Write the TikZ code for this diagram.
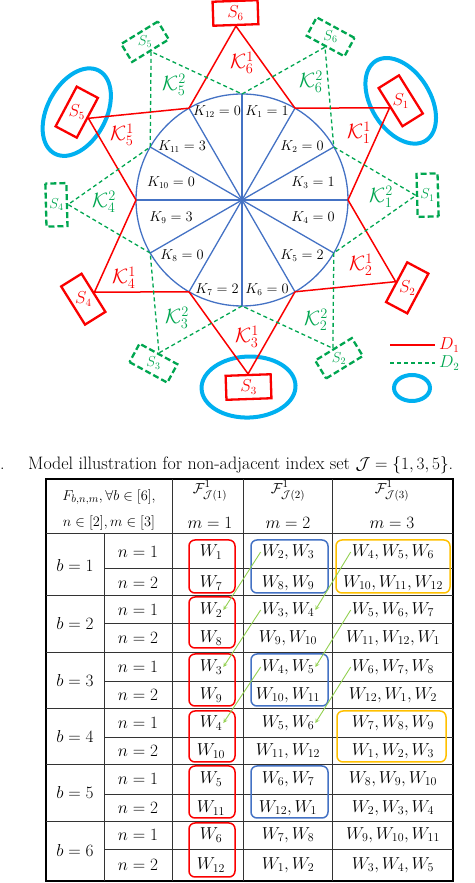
\documentclass[tikz,border=0pt]{standalone}
\usepackage{amsmath}
\usepackage{amssymb}
\usepackage{tikz}
\usepackage{xcolor}
\usetikzlibrary{shapes.geometric, arrows}
\definecolor{pptred}{RGB}{250,0,0}
\definecolor{pptgreen}{RGB}{0,166,80}
\definecolor{pptblue}{RGB}{68,114,196}
\definecolor{pptcyan}{RGB}{0,176,240}
\definecolor{pptgold}{RGB}{255,192,0}
\definecolor{pptlime}{RGB}{146,208,80}
\tikzstyle{dOne}=[pptred, line width=1.5pt]
\tikzstyle{dTwo}=[pptgreen, line width=1.3pt, dash pattern=on 4pt off 3pt]
\tikzstyle{spoke}=[pptblue, line width=1.3pt]
\tikzstyle{redbox}=[draw=pptred, line width=2.3pt, rectangle, minimum width=45pt, minimum height=24pt, inner sep=0pt]
\tikzstyle{greenbox}=[draw=pptgreen, line width=2.3pt, dash pattern=on 6pt off 3pt, rectangle, minimum width=43pt, minimum height=21pt, inner sep=0pt]
\tikzstyle{sring}=[draw=pptcyan, line width=4pt, ellipse, minimum width=94pt, minimum height=59pt, inner sep=0pt]
\tikzstyle{rlabel}=[pptred, inner sep=1pt, font=\fontsize{16}{18}\selectfont]
\tikzstyle{glabel}=[pptgreen, inner sep=1pt, font=\fontsize{14}{16}\selectfont]
\tikzstyle{dlabel}=[inner sep=1pt, font=\fontsize{16}{18}\selectfont]
\tikzstyle{klabel}=[inner sep=1pt, font=\fontsize{13.5}{15}\selectfont]
\tikzstyle{kcal}=[inner sep=1pt, font=\fontsize{20}{22}\selectfont]
\tikzstyle{cell}=[inner sep=1pt, font=\fontsize{16.5}{18}\selectfont]
\tikzstyle{hdr}=[inner sep=0.5pt, font=\fontsize{15}{17}\selectfont]
\tikzstyle{grp}=[rounded corners=6pt, line width=1.5pt]
\tikzstyle{grid}=[black!80, line width=0.9pt]
\tikzstyle{wflow}=[->, >=stealth, pptlime, line width=0.9pt]

\begin{document}
\begin{tikzpicture}[x=1pt,y=1pt]
    \useasboundingbox (0,0) rectangle (474,883);

    % ring of 12 sectors
    \begin{scope}[shift={(242,683)}]
    \coordinate (o) at (0,0);
    \coordinate (p0) at (0:106);
    \coordinate (p1) at (30:106);
    \coordinate (p2) at (60:106);
    \coordinate (p3) at (90:106);
    \coordinate (p4) at (120:106);
    \coordinate (p5) at (150:106);
    \coordinate (p6) at (180:106);
    \coordinate (p7) at (210:106);
    \coordinate (p8) at (240:106);
    \coordinate (p9) at (270:106);
    \coordinate (p10) at (300:106);
    \coordinate (p11) at (330:106);

    \draw[spoke] (o) circle (106);
    \draw[spoke] (o) -- (p0);
    \draw[spoke] (o) -- (p1);
    \draw[spoke] (o) -- (p2);
    \draw[spoke] (o) -- (p3);
    \draw[spoke] (o) -- (p4);
    \draw[spoke] (o) -- (p5);
    \draw[spoke] (o) -- (p6);
    \draw[spoke] (o) -- (p7);
    \draw[spoke] (o) -- (p8);
    \draw[spoke] (o) -- (p9);
    \draw[spoke] (o) -- (p10);
    \draw[spoke] (o) -- (p11);

    \node[klabel] (k1) at (25,88) {$K_1=1$};
    \node[klabel] (k2) at (60,53) {$K_2=0$};
    \node[klabel] (k3) at (71,17) {$K_3=1$};
    \node[klabel] (k4) at (71,-18) {$K_4=0$};
    \node[klabel] (k5) at (60,-56) {$K_5=2$};
    \node[klabel] (k6) at (25,-90) {$K_6=0$};
    \node[klabel] (k7) at (-25,-90) {$K_7=2$};
    \node[klabel] (k8) at (-60,-56) {$K_8=0$};
    \node[klabel] (k9) at (-71,-18) {$K_9=3$};
    \node[klabel] (k10) at (-71,17) {$K_{10}=0$};
    \node[klabel] (k11) at (-60,53) {$K_{11}=3$};
    \node[klabel] (k12) at (-25,88) {$K_{12}=0$};

    % D1 stations
    \node[redbox, rotate=-58, anchor=south] (R1) at (32:174) {};
    \node[redbox, rotate=-118, anchor=south] (R2) at (-28:174) {};
    \node[redbox, rotate=-178, anchor=south] (R3) at (-88:174) {};
    \node[redbox, rotate=122, anchor=south] (R4) at (212:174) {};
    \node[redbox, rotate=62, anchor=south] (R5) at (152:174) {};
    \node[redbox, rotate=2, anchor=south] (R6) at (92:174) {};
    \node[rlabel] (tR1) at (R1.center) {$S_1$};
    \node[rlabel] (tR2) at (R2.center) {$S_2$};
    \node[rlabel] (tR3) at (R3.center) {$S_3$};
    \node[rlabel] (tR4) at (R4.center) {$S_4$};
    \node[rlabel] (tR5) at (R5.center) {$S_5$};
    \node[rlabel] (tR6) at (R6.center) {$S_6$};

    % D2 stations
    \node[greenbox, rotate=-88.5, anchor=south] (G1) at (1.5:174) {};
    \node[greenbox, rotate=-148.5, anchor=south] (G2) at (-58.5:174) {};
    \node[greenbox, rotate=151.5, anchor=south] (G3) at (-118.5:174) {};
    \node[greenbox, rotate=91.5, anchor=south] (G4) at (181.5:174) {};
    \node[greenbox, rotate=31.5, anchor=south] (G5) at (121.5:174) {};
    \node[greenbox, rotate=-28.5, anchor=south] (G6) at (61.5:174) {};
    \node[glabel] (tG1) at (G1.center) {$S_1$};
    \node[glabel] (tG2) at (G2.center) {$S_2$};
    \node[glabel] (tG3) at (G3.center) {$S_3$};
    \node[glabel] (tG4) at (G4.center) {$S_4$};
    \node[glabel] (tG5) at (G5.center) {$S_5$};
    \node[glabel] (tG6) at (G6.center) {$S_6$};

    % selected stations
    \node[sring, rotate=-58] (E1) at (R1.center) {};
    \node[sring, rotate=-178, minimum height=61pt] (E3) at (R3.center) {};
    \node[sring, rotate=62] (E5) at (R5.center) {};

    \draw[dOne] (p0) -- (R1.south) -- (p2);
    \draw[dOne] (p0) -- (R2.south) -- (p10);
    \draw[dOne] (p10) -- (R3.south) -- (p8);
    \draw[dOne] (p8) -- (R4.south) -- (p6);
    \draw[dOne] (p6) -- (R5.south) -- (p4);
    \draw[dOne] (p4) -- (R6.south) -- (p2);

    \draw[dTwo] (p1) -- (G1.south) -- (p11);
    \draw[dTwo] (p11) -- (G2.south) -- (p9);
    \draw[dTwo] (p9) -- (G3.south) -- (p7);
    \draw[dTwo] (p7) -- (G4.south) -- (p5);
    \draw[dTwo] (p5) -- (G5.south) -- (p3);
    \draw[dTwo] (p3) -- (G6.south) -- (p1);

    \node[kcal, pptred] (K11) at (117,67) {$\mathcal{K}^1_1$};
    \node[kcal, pptred] (K12) at (119,-65) {$\mathcal{K}^1_2$};
    \node[kcal, pptred] (K13) at (5,-137) {$\mathcal{K}^1_3$};
    \node[kcal, pptred] (K14) at (-118,-78) {$\mathcal{K}^1_4$};
    \node[kcal, pptred] (K15) at (-120,65) {$\mathcal{K}^1_5$};
    \node[kcal, pptred] (K16) at (0,137) {$\mathcal{K}^1_6$};
    \node[kcal, pptgreen] (K21) at (139,3) {$\mathcal{K}^2_1$};
    \node[kcal, pptgreen] (K22) at (74,-120) {$\mathcal{K}^2_2$};
    \node[kcal, pptgreen] (K23) at (-65,-118) {$\mathcal{K}^2_3$};
    \node[kcal, pptgreen] (K24) at (-138,-2) {$\mathcal{K}^2_4$};
    \node[kcal, pptgreen] (K25) at (-68,115) {$\mathcal{K}^2_5$};
    \node[kcal, pptgreen] (K26) at (69,118) {$\mathcal{K}^2_6$};
    \end{scope}

    % legend
    \coordinate (l1a) at (390,538);
    \coordinate (l1b) at (435,538);
    \coordinate (l2a) at (390,520);
    \coordinate (l2b) at (435,520);
    \draw[dOne] (l1a) -- (l1b);
    \draw[dTwo] (l2a) -- (l2b);
    \node[dlabel, pptred, anchor=west] (d1) at ([xshift=3pt]l1b) {$D_1$};
    \node[dlabel, pptgreen, anchor=west] (d2) at ([xshift=3pt]l2b) {$D_2$};
    \node[draw=pptcyan, line width=4pt, ellipse, minimum width=36pt, minimum height=26pt] (lring) at (412,495) {};

    % caption
    \node[anchor=base west, inner sep=0pt, font=\fontsize{18}{20}\selectfont] (dot) at (0,413) {.};
    \node[anchor=base west, inner sep=0pt, font=\fontsize{18}{20}\selectfont] (cap) at (28,413) {Model illustration for non-adjacent index set $\mathcal{J}=\{1,3,5\}$.};

    % table grid
    \draw[black, line width=1.5pt] (46,2) rectangle (453,404);
    \draw[grid] (46,350) -- (453,350);
    \draw[grid] (46,288) -- (453,288);
    \draw[grid] (46,231) -- (453,231);
    \draw[grid] (46,175) -- (453,175);
    \draw[grid] (46,119) -- (453,119);
    \draw[grid] (46,62) -- (453,62);
    \draw[grid] (104,315) -- (453,315);
    \draw[grid] (104,260) -- (453,260);
    \draw[grid] (104,202) -- (453,202);
    \draw[grid] (104,146) -- (453,146);
    \draw[grid] (104,89) -- (453,89);
    \draw[grid] (104,34) -- (453,34);
    \draw[grid] (104,2) -- (104,350);
    \draw[grid] (172,2) -- (172,404);
    \draw[grid] (243,2) -- (243,404);
    \draw[grid] (332,2) -- (332,404);

    % groups
    \draw[grp, pptred] (189,343) rectangle (235,290);
    \draw[grp, pptred] (189,286) rectangle (235,235);
    \draw[grp, pptred] (189,229) rectangle (235,177);
    \draw[grp, pptred] (189,172) rectangle (235,121);
    \draw[grp, pptred] (189,117) rectangle (235,65);
    \draw[grp, pptred] (189,60) rectangle (235,6);
    \draw[grp, pptblue] (251,343) rectangle (328,290);
    \draw[grp, pptblue] (251,229) rectangle (328,177);
    \draw[grp, pptblue] (251,117) rectangle (328,65);
    \draw[grp, pptgold] (336,343) rectangle (450,290);
    \draw[grp, pptgold] (337,172) rectangle (446,121);

    % header
    \node[hdr] (hF) at (109,386) {$F_{b,n,m},\forall b\in[6],$};
    \node[hdr] (hN) at (109,360) {$n\in[2],m\in[3]$};
    \node[hdr] (f1) at (210,392) {$\mathcal{F}^1_{\mathcal{J}(1)}$};
    \node[hdr] (f2) at (288,392) {$\mathcal{F}^1_{\mathcal{J}(2)}$};
    \node[hdr] (f3) at (392,392) {$\mathcal{F}^1_{\mathcal{J}(3)}$};
    \node[cell] (m1) at (210,360) {$m=1$};
    \node[cell] (m2) at (288,360) {$m=2$};
    \node[cell] (m3) at (392,360) {$m=3$};

    % b labels
    \node[cell] (b1) at (75,317) {$b=1$};
    \node[cell] (b2) at (75,259) {$b=2$};
    \node[cell] (b3) at (75,202) {$b=3$};
    \node[cell] (b4) at (75,146) {$b=4$};
    \node[cell] (b5) at (75,90) {$b=5$};
    \node[cell] (b6) at (75,32) {$b=6$};

    % n labels
    \node[cell] (n11) at (138,331) {$n=1$};
    \node[cell] (n12) at (138,300) {$n=2$};
    \node[cell] (n21) at (138,273) {$n=1$};
    \node[cell] (n22) at (138,245) {$n=2$};
    \node[cell] (n31) at (138,216) {$n=1$};
    \node[cell] (n32) at (138,188) {$n=2$};
    \node[cell] (n41) at (138,160) {$n=1$};
    \node[cell] (n42) at (138,132) {$n=2$};
    \node[cell] (n51) at (138,104) {$n=1$};
    \node[cell] (n52) at (138,75) {$n=2$};
    \node[cell] (n61) at (138,48) {$n=1$};
    \node[cell] (n62) at (138,18) {$n=2$};

    % b = 1
    \node[cell] (c111) at (211,331) {$W_1$};
    \node[cell] (c112) at (288,331) {$W_2, W_3$};
    \node[cell] (c113) at (393,331) {$W_4, W_5, W_6$};
    \node[cell] (c121) at (211,300) {$W_7$};
    \node[cell] (c122) at (288,300) {$W_8, W_9$};
    \node[cell] (c123) at (393,300) {$W_{10}, W_{11}, W_{12}$};
    % b = 2
    \node[cell] (c211) at (211,273) {$W_2$};
    \node[cell] (c212) at (288,273) {$W_3, W_4$};
    \node[cell] (c213) at (393,273) {$W_5, W_6, W_7$};
    \node[cell] (c221) at (211,245) {$W_8$};
    \node[cell] (c222) at (288,245) {$W_9, W_{10}$};
    \node[cell] (c223) at (393,245) {$W_{11}, W_{12}, W_1$};
    % b = 3
    \node[cell] (c311) at (211,216) {$W_3$};
    \node[cell] (c312) at (288,216) {$W_4, W_5$};
    \node[cell] (c313) at (393,216) {$W_6, W_7, W_8$};
    \node[cell] (c321) at (211,188) {$W_9$};
    \node[cell] (c322) at (288,188) {$W_{10}, W_{11}$};
    \node[cell] (c323) at (393,188) {$W_{12}, W_1, W_2$};
    % b = 4
    \node[cell] (c411) at (211,160) {$W_4$};
    \node[cell] (c412) at (288,160) {$W_5, W_6$};
    \node[cell] (c413) at (393,160) {$W_7, W_8, W_9$};
    \node[cell] (c421) at (211,132) {$W_{10}$};
    \node[cell] (c422) at (288,132) {$W_{11}, W_{12}$};
    \node[cell] (c423) at (393,132) {$W_1, W_2, W_3$};
    % b = 5
    \node[cell] (c511) at (211,104) {$W_5$};
    \node[cell] (c512) at (288,104) {$W_6, W_7$};
    \node[cell] (c513) at (393,104) {$W_8, W_9, W_{10}$};
    \node[cell] (c521) at (211,75) {$W_{11}$};
    \node[cell] (c522) at (288,75) {$W_{12}, W_1$};
    \node[cell] (c523) at (393,75) {$W_2, W_3, W_4$};
    % b = 6
    \node[cell] (c611) at (211,48) {$W_6$};
    \node[cell] (c612) at (288,48) {$W_7, W_8$};
    \node[cell] (c613) at (393,48) {$W_9, W_{10}, W_{11}$};
    \node[cell] (c621) at (211,18) {$W_{12}$};
    \node[cell] (c622) at (288,18) {$W_1, W_2$};
    \node[cell] (c623) at (393,18) {$W_3, W_4, W_5$};

    % shifts
    \draw[wflow] (c112.west) -- (c211.east);
    \draw[wflow] (c113.west) -- (c212.east);
    \draw[wflow] (c212.west) -- (c311.east);
    \draw[wflow] (c213.west) -- (c312.east);
    \draw[wflow] (c312.west) -- (c411.east);
    \draw[wflow] (c313.west) -- (c412.east);
\end{tikzpicture}
\end{document}
